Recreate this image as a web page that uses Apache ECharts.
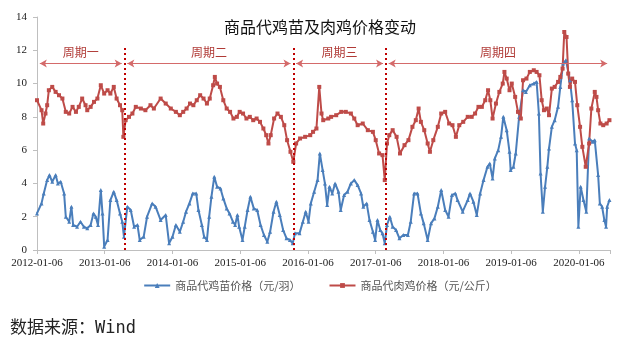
<!DOCTYPE html>
<html lang="zh">
<head>
    <meta charset="UTF-8">
    <title>商品代鸡苗及肉鸡价格变动</title>
    <script src="https://cdn.jsdelivr.net/npm/echarts@6/dist/echarts.min.js"></script>
    <style>
        html, body { margin: 0; padding: 0; background: #fff; }
        #priceChart { width: 640px; height: 355px; }
    </style>
</head>
<body>
<div id="priceChart"></div>
<script type="text/javascript">
    // x 轴单位：自 2012-01-06 起的月数
    var xTickLabels = ['2012-01-06', '2013-01-06', '2014-01-06', '2015-01-06', '2016-01-06',
        '2017-01-06', '2018-01-06', '2019-01-06', '2020-01-06'];

    // 商品代鸡苗价格（元/羽）
    var chickMonths = [0, 0.8, 1.2, 1.8, 2.2, 2.7, 3.3, 3.7, 4.2, 4.8, 5.1, 5.7, 6.1, 6.4, 7.1, 7.7, 8.3, 8.9, 9.5, 10.0,
        10.4, 10.8, 11.3, 11.6, 11.9, 12.5, 13.0, 13.6, 14.1, 14.7, 15.1, 15.4, 16.0, 16.6, 17.2, 17.8, 18.2, 18.9, 19.5, 20.4,
        21.0, 21.9, 22.8, 23.4, 24.0, 24.6, 25.3, 25.9, 26.4, 27.0, 27.6, 28.2, 28.6, 29.2, 29.6, 30.1, 30.5, 30.9, 31.4, 31.9,
        32.5, 33.0, 33.6, 34.1, 34.7, 35.1, 35.5, 35.8, 36.4, 36.8, 37.3, 37.8, 38.4, 39.0, 39.6, 40.2, 40.8, 41.3, 41.9, 42.4,
        43.0, 43.6, 44.2, 44.8, 45.3, 45.7, 46.5, 47.1, 47.6, 48.1, 48.5, 49.1, 49.7, 50.1, 50.6, 51.0, 51.4, 51.8, 52.3, 52.8,
        53.4, 53.8, 54.4, 55.0, 55.6, 56.2, 56.8, 57.4, 57.8, 58.4, 58.9, 59.5, 59.9, 60.3, 60.8, 61.2, 61.6, 62.0, 62.5, 63.0,
        63.6, 64.2, 64.9, 65.7, 66.2, 66.8, 67.4, 68.0, 68.5, 69.2, 69.8, 70.4, 71.0, 71.6, 72.3, 72.9, 73.5, 74.1, 74.5, 75.4,
        76.3, 76.7, 77.3, 77.9, 78.5, 79.1, 79.8, 80.2, 80.7, 81.1, 81.7, 82.2, 82.6, 83.2, 83.7, 83.9, 84.4, 84.8, 85.4, 86.1,
        86.6, 87.3, 88.0, 88.5, 88.9, 89.2, 89.6, 90.0, 90.4, 90.7, 91.2, 91.7, 92.3, 92.7, 93.2, 93.7, 94.4, 94.8, 95.3, 95.6,
        95.9, 96.3, 96.8, 97.3, 97.8, 98.4, 98.8, 99.4, 99.7, 100.1, 100.5, 100.8, 101.0, 101.4];
    var chickPrice = [2.2, 2.8, 3.4, 4.2, 4.5, 4.1, 4.5, 4.0, 4.1, 3.4, 2.0, 1.7, 2.6, 1.5, 1.4, 1.7, 1.4, 1.3, 1.5, 2.2,
        2.0, 1.5, 3.6, 2.2, 0.2, 0.6, 3.0, 3.5, 3.0, 2.2, 1.7, 0.8, 2.6, 2.4, 1.4, 1.5, 0.6, 0.8, 2.0, 2.8,
        2.6, 1.8, 2.1, 0.4, 0.8, 1.5, 1.1, 1.7, 2.3, 2.8, 3.4, 3.4, 2.4, 1.5, 0.8, 0.6, 2.0, 3.2, 4.4, 3.8,
        3.7, 3.1, 2.5, 2.2, 1.7, 1.5, 2.1, 1.4, 0.6, 1.4, 2.4, 3.2, 2.5, 2.4, 1.5, 0.9, 0.5, 1.1, 2.3, 2.9,
        2.1, 1.2, 0.7, 0.6, 0.4, 1.0, 1.0, 1.7, 2.3, 1.7, 2.8, 3.5, 4.2, 5.8, 4.8, 4.0, 2.7, 3.8, 3.4, 4.0,
        3.5, 2.4, 3.3, 3.5, 4.0, 4.2, 3.9, 3.4, 2.6, 2.8, 1.8, 1.1, 0.6, 1.8, 1.2, 1.0, 0.4, 1.5, 2.0, 1.4,
        1.2, 0.7, 0.9, 0.9, 1.7, 3.4, 3.4, 2.2, 1.6, 0.6, 1.6, 1.9, 2.6, 3.6, 2.4, 2.0, 3.3, 3.4, 3.0, 2.3,
        3.0, 3.4, 2.9, 2.1, 3.4, 4.2, 5.0, 5.2, 4.3, 5.5, 6.0, 6.8, 8.0, 7.2, 5.9, 4.8, 5.0, 5.8, 8.0, 9.6,
        9.5, 9.9, 10.0, 10.1, 8.2, 4.6, 2.3, 3.8, 5.0, 6.1, 7.4, 7.8, 8.6, 9.8, 11.2, 11.4, 10.2, 9.0, 6.4, 6.0,
        1.4, 3.8, 3.0, 2.3, 6.7, 6.5, 6.6, 4.5, 2.8, 2.6, 1.8, 1.4, 2.6, 3.0];

    // 商品代肉鸡价格（元/公斤）
    var broilerMonths = [0, 0.8, 1.1, 1.5, 1.8, 2.1, 2.7, 3.3, 3.9, 4.5, 5.1, 5.7, 6.3, 6.9, 7.4, 8.0, 8.6, 8.9, 9.5, 10.1,
        10.7, 11.3, 11.9, 12.5, 13.0, 13.6, 14.1, 14.7, 15.1, 15.3, 15.7, 16.3, 16.9, 17.5, 18.4, 19.2, 20.1, 20.7, 21.9, 22.8,
        23.7, 24.6, 25.3, 25.9, 26.5, 27.1, 27.7, 28.3, 28.9, 29.5, 30.1, 30.6, 31.2, 31.5, 31.9, 32.4, 33.0, 33.6, 34.2, 34.8,
        35.4, 35.9, 36.5, 37.1, 37.7, 38.3, 38.9, 39.5, 40.1, 40.6, 41.0, 41.4, 42.0, 42.6, 43.2, 43.8, 44.3, 44.9, 45.4, 45.9,
        46.6, 47.5, 48.4, 48.9, 49.5, 50.0, 50.4, 50.7, 51.6, 52.1, 53.0, 53.9, 54.7, 55.6, 56.2, 56.8, 57.7, 58.6, 59.5, 60.0,
        60.6, 61.2, 61.6, 62.0, 62.4, 63.0, 63.7, 64.3, 65.1, 65.8, 66.5, 67.1, 67.6, 68.0, 68.6, 69.2, 69.6, 70.2, 71.0, 71.6,
        72.3, 73.0, 73.6, 74.2, 74.8, 75.5, 76.3, 77.0, 77.6, 78.2, 78.8, 79.4, 79.9, 80.3, 80.7, 81.3, 81.9, 82.5, 82.8, 83.2,
        83.7, 84.1, 84.7, 85.2, 85.7, 86.1, 86.7, 87.3, 88.0, 88.5, 89.0, 89.4, 89.8, 90.3, 90.7, 91.2, 91.7, 92.3, 92.7, 93.1,
        93.4, 93.8, 94.1, 94.4, 94.8, 95.3, 95.7, 96.2, 96.6, 97.2, 97.8, 98.2, 98.8, 99.1, 99.4, 99.8, 100.3, 100.9, 101.4];
    var broilerPrice = [9.0, 8.4, 7.6, 8.2, 8.7, 9.6, 9.8, 9.5, 9.3, 9.1, 8.3, 8.2, 8.6, 8.3, 8.6, 9.1, 8.7, 8.4, 8.6, 8.9,
        9.1, 9.9, 9.4, 9.6, 9.4, 9.8, 9.1, 8.7, 8.4, 6.8, 7.8, 8.0, 8.2, 8.6, 8.5, 8.4, 8.7, 8.5, 9.1, 8.8,
        8.5, 8.3, 8.1, 8.3, 8.5, 8.8, 8.7, 9.0, 9.3, 9.1, 8.8, 9.1, 9.9, 10.4, 10.0, 9.8, 9.0, 8.5, 8.3, 7.9,
        8.0, 8.3, 8.2, 7.9, 8.0, 7.8, 7.9, 7.7, 7.3, 6.9, 6.4, 6.9, 7.9, 8.2, 8.0, 7.5, 6.6, 5.9, 5.3, 6.4,
        6.7, 6.8, 6.9, 7.1, 7.3, 9.8, 8.2, 7.8, 7.9, 8.0, 8.1, 8.3, 8.3, 8.2, 7.9, 7.5, 7.6, 7.2, 7.1, 6.6,
        5.8, 5.7, 4.2, 6.4, 6.9, 7.2, 6.8, 5.8, 6.3, 6.6, 7.4, 7.8, 8.5, 7.7, 7.2, 6.4, 5.9, 6.6, 7.4, 8.2,
        8.3, 7.6, 7.5, 6.8, 7.5, 7.7, 8.0, 8.0, 8.2, 8.6, 8.6, 9.0, 9.6, 9.0, 7.9, 8.8, 9.5, 10.0, 10.7, 10.3,
        9.6, 10.0, 9.2, 8.3, 7.9, 10.2, 10.3, 10.7, 10.8, 10.7, 10.5, 9.0, 8.4, 8.5, 8.1, 9.7, 9.8, 10.1, 10.4, 10.9,
        13.1, 12.8, 10.6, 9.8, 10.3, 10.1, 8.7, 7.4, 6.2, 5.0, 6.4, 8.5, 9.5, 9.2, 8.4, 7.6, 7.5, 7.6, 7.8];

    // 周期划分（月）
    var periodNames = ['周期一', '周期二', '周期三', '周期四'];
    var periodBounds = [0, 15.5, 45.4, 61.8, 101.5];
    var periodArrowValue = 11.2;
    var dividerTopValue = 12.2;

    function pairs(xs, ys) {
        var out = [];
        for (var i = 0; i < xs.length; i++) {
            out.push([xs[i], ys[i]]);
        }
        return out;
    }

    var markLines = [];
    for (var p = 0; p < periodNames.length; p++) {
        markLines.push([
            {coord: [periodBounds[p] + 0.5, periodArrowValue], name: periodNames[p]},
            {coord: [periodBounds[p + 1] - 0.5, periodArrowValue]}
        ]);
    }
    var dividerLines = [];
    for (var d = 1; d < periodBounds.length - 1; d++) {
        dividerLines.push([
            {coord: [periodBounds[d], 0]},
            {coord: [periodBounds[d], dividerTopValue]}
        ]);
    }

    var chart = echarts.init(document.getElementById('priceChart'));
    var option = {
        animation: false,
        title: {
            text: '商品代鸡苗及肉鸡价格变动',
            left: 'center',
            top: 14,
            textStyle: {
                fontFamily: 'Noto Sans CJK SC',
                fontSize: 16,
                fontWeight: 'normal',
                color: '#111'
            }
        },
        legend: {
            top: 275,
            left: 'center',
            itemGap: 28,
            itemWidth: 26,
            itemHeight: 6,
            textStyle: {fontFamily: 'Noto Sans CJK SC', fontSize: 11, color: '#555'},
            data: ['商品代鸡苗价格（元/羽）', '商品代肉鸡价格（元/公斤）']
        },
        grid: {left: 37, right: 30, top: 17, bottom: 105},
        xAxis: {
            type: 'value',
            min: 0,
            max: 101.5,
            interval: 12,
            splitLine: {show: false},
            axisLine: {lineStyle: {color: '#bfbfbf'}},
            axisTick: {length: 4, lineStyle: {color: '#bfbfbf'}},
            axisLabel: {
                fontFamily: 'Liberation Serif',
                fontSize: 11,
                color: '#222',
                formatter: function (v) {
                    var idx = Math.round(v / 12);
                    return (Math.abs(v - idx * 12) < 0.01 && xTickLabels[idx]) ? xTickLabels[idx] : '';
                }
            }
        },
        yAxis: {
            type: 'value',
            min: 0,
            max: 14,
            interval: 2,
            splitLine: {show: false},
            axisLine: {show: true, lineStyle: {color: '#bfbfbf'}},
            axisTick: {show: true, length: 4, lineStyle: {color: '#bfbfbf'}},
            axisLabel: {fontFamily: 'Liberation Serif', fontSize: 11, color: '#222', margin: 10}
        },
        graphic: [{
            type: 'text',
            left: 10,
            top: 320,
            style: {
                text: '数据来源：Wind',
                font: '17px "DejaVu Sans Mono", "Noto Sans CJK SC"',
                fill: '#222'
            }
        }],
        series: [
            {
                name: '商品代鸡苗价格（元/羽）',
                type: 'line',
                data: pairs(chickMonths, chickPrice),
                symbol: 'triangle',
                symbolSize: 4,
                showAllSymbol: true,
                itemStyle: {color: '#4a7ebb'},
                lineStyle: {width: 2, color: '#4a7ebb'}
            },
            {
                name: '商品代肉鸡价格（元/公斤）',
                type: 'line',
                data: pairs(broilerMonths, broilerPrice),
                symbol: 'rect',
                symbolSize: 4,
                showAllSymbol: true,
                itemStyle: {color: '#be4b48'},
                lineStyle: {width: 2, color: '#be4b48'},
                markLine: {
                    silent: true,
                    symbol: ['arrow', 'arrow'],
                    symbolSize: [6, 7],
                    lineStyle: {color: '#d46a6a', width: 1, type: 'solid'},
                    label: {
                        show: true,
                        position: 'middle',
                        formatter: '{b}',
                        color: '#b03a36',
                        fontFamily: 'Noto Sans CJK SC',
                        fontSize: 12,
                        backgroundColor: '#fff',
                        padding: [0, 5]
                    },
                    data: markLines
                }
            },
            {
                name: 'dividers',
                type: 'line',
                data: [],
                markLine: {
                    silent: true,
                    symbol: ['none', 'none'],
                    lineStyle: {color: '#c00000', width: 2, type: [2, 3]},
                    label: {show: false},
                    data: dividerLines
                }
            }
        ]
    };
    chart.setOption(option);
</script>
</body>
</html>
